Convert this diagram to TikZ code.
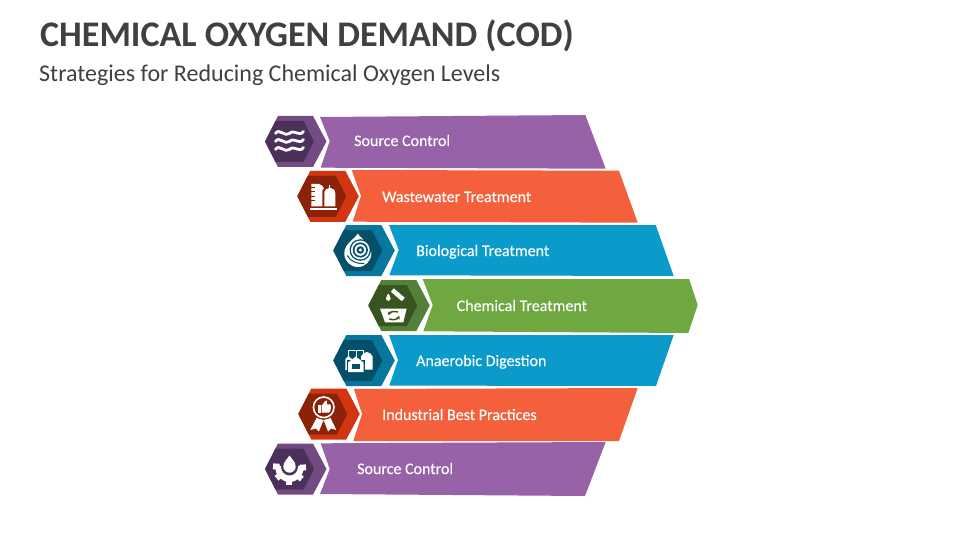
\documentclass[tikz,border=0pt]{standalone}
\usepackage{fontspec}
\setmainfont{Carlito}
\newfontfamily\labelfont[FakeBold=0.25]{Carlito}
\usetikzlibrary{arrows.meta}
\definecolor{txt}{HTML}{404040}
\definecolor{purB}{HTML}{9762A8}\definecolor{purO}{HTML}{744A83}\definecolor{purI}{HTML}{4B3059}
\definecolor{orgB}{HTML}{F4603C}\definecolor{orgO}{HTML}{D2350F}\definecolor{orgI}{HTML}{8C2309}
\definecolor{bluB}{HTML}{0A9BCB}\definecolor{bluO}{HTML}{08779E}\definecolor{bluI}{HTML}{045069}
\definecolor{grnB}{HTML}{6FA840}\definecolor{grnO}{HTML}{55803A}\definecolor{grnI}{HTML}{38541F}
\tikzset{
  barlabel/.style={text=white,anchor=base west,inner sep=0pt,font=\labelfont\fontsize{16}{18}\selectfont},
  icon/.style={fill=white,draw=none},
  iconline/.style={draw=white,line cap=round,line join=round}
}
\newcommand{\hexbase}[4]{% L, cy, outer, inner
  \fill[#3] (#1,#2) ++(0,0) -- ++(13,-25.5) -- ++(35,0) -- ++(13.5,25.5) -- ++(-13.5,25.5) -- ++(-35,0) -- cycle;
  \fill[#4] (#1,#2) -- ++(10.5,-20.5) -- ++(28,0) -- ++(10.5,20.5) -- ++(-10.5,20.5) -- ++(-28,0) -- cycle;
}
\newcommand{\dropshape}[4]{% cx, cy, r, tip height above centre
  (#1,#2-#4) .. controls (#1+0.25*#3,#2-#4+0.45*#3) and (#1+#3,#2-0.75*#3) .. (#1+#3,#2)
  arc[start angle=0,end angle=180,radius=#3]
  .. controls (#1-#3,#2-0.75*#3) and (#1-0.25*#3,#2-#4+0.45*#3) .. cycle
}
\begin{document}
\begin{tikzpicture}[x=1pt,y=-1pt]
\useasboundingbox (0,0) rectangle (960,540);
\fill[white] (0,0) rectangle (960,540);
\node[anchor=base west,inner sep=0pt,text=txt,font=\fontsize{36}{40}\selectfont\bfseries] (title) at (40,46.5) {CHEMICAL OXYGEN DEMAND (COD)};
\node[anchor=base west,inner sep=0pt,text=txt,font=\fontsize{24}{28}\selectfont] (subtitle) at (39,82) {Strategies for Reducing Chemical Oxygen Levels};
% bars
\fill[purB] (320,117) -- (585.3,115) -- (605.7,168.7) -- (320.7,167.7) -- (329.7,141) -- cycle;
\fill[orgB] (351.7,170) -- (619,170.7) -- (637.7,222.7) -- (352.7,221.7) -- (361,196) -- cycle;
\fill[bluB] (389,225) -- (655.7,225) -- (673.7,276) -- (389.3,275.3) -- (398.7,250) -- cycle;
\fill[grnB] (422.7,279) -- (689,279) -- (697.7,305) -- (688.3,333) -- (423.3,331.3) -- (432.7,305) -- cycle;
\fill[bluB] (389,335) -- (673.7,335) -- (656,386) -- (389.3,385.6) -- (398,360) -- cycle;
\fill[orgB] (354,389) -- (637.7,388) -- (619,441) -- (353.3,441) -- (362,414) -- cycle;
\fill[purB] (320.7,443.3) -- (605.7,442) -- (585,496) -- (320,494) -- (329.7,469) -- cycle;
% hexagons
\hexbase{265}{141.5}{purO}{purI}
\hexbase{297.3}{196.3}{orgO}{orgI}
\hexbase{333.3}{250.5}{bluO}{bluI}
\hexbase{368.3}{305.5}{grnO}{grnI}
\hexbase{333.3}{360.5}{bluO}{bluI}
\hexbase{298.3}{414}{orgO}{orgI}
\hexbase{265}{469}{purO}{purI}
% labels
\node[barlabel] (l1) at (354,146) {Source Control};
\node[barlabel] (l2) at (382,202) {Wastewater Treatment};
\node[barlabel] (l3) at (416,256) {Biological Treatment};
\node[barlabel] (l4) at (456.5,311) {Chemical Treatment};
\node[barlabel] (l5) at (416,366) {Anaerobic Digestion};
\node[barlabel] (l6) at (382,420) {Industrial Best Practices};
\node[barlabel] (l7) at (357,474) {Source Control};
% icon 1: waves
\begin{scope}[shift={(265,141.5)}]
\foreach \yy in {-9,-1,7}{
 \draw[iconline,line width=2.8] (10.5,\yy+1) .. controls (14,\yy-5) and (20,\yy+5) .. (24.5,\yy+1) .. controls (29,\yy-4) and (34,\yy+5) .. (38.5,\yy-1);
}
\end{scope}
% icon 2: tanks
\begin{scope}[shift={(297.3,196.3)}]
\fill[icon] (14,-12.5) -- (21,-12.5) .. controls (24,-12) and (26,-10) .. (26.5,-8) -- (25,-6) -- (25,10) -- (14,10) -- cycle;
\foreach \yy in {-9.5,-5,-0.5,4}{\fill[orgI] (14,\yy) rectangle (17.5,\yy+1.1);}
\fill[orgI] (25.2,-6.5) rectangle (26.8,10.5);
\fill[icon] (27,10) -- (27,-3) .. controls (27,-7) and (30,-8) .. (32.5,-8.5) .. controls (35,-8) and (38,-7) .. (38,-3) -- (38,10) -- cycle;
\fill[icon] (32,-11) rectangle (33,-8);
\fill[icon] (12.4,11.6) rectangle (40,13.6);
\end{scope}
% icon 3: drop with rings
\begin{scope}[shift={(333.3,250.5)}]
\fill[icon] \dropshape{24.5}{3}{13.5}{20};
\fill[bluI] (27,-0.5) circle (10.8);
\fill[white] (27,-0.5) circle (9.4);
\fill[bluI] (27,-0.5) circle (7.6);
\fill[white] (27,-0.5) circle (5.8);
\fill[bluI] (27,-0.5) circle (3.8);
\fill[white] (27,-0.5) circle (1.7);
\draw[bluI,line width=1] (14,5) .. controls (17,11) and (24,13.5) .. (31,13);
\end{scope}
% icon 4: tube and basket
\begin{scope}[shift={(368.3,305.5)}]
\draw[white,line width=4.5] (24,-15.5) -- (35,-6);
\fill[icon] \dropshape{20}{-7}{2.3}{5};
\fill[icon] (11.7,3) -- (38.4,3) -- (35,16.8) -- (16.7,16.8) -- cycle;
\draw[grnI,line width=1.5,-{Stealth[length=3pt,width=4pt]}] (29.5,6.5) .. controls (26,5.7) and (22,6) .. (20,9.5);
\draw[grnI,line width=1.5,-{Stealth[length=3pt,width=4pt]}] (21,13.5) .. controls (24,14.5) and (29,14.3) .. (31,10.5);
\end{scope}
% icon 5: factory
\begin{scope}[shift={(333.3,360.5)}]
\draw[white,line width=0.7] (15,-2) -- (15,-10) -- (30,-10) -- (30,-3);
\draw[white,line width=0.7] (23,-10) -- (23,-3);
\fill[icon] (27.7,9) -- (27.7,-4) .. controls (29,-7) and (31,-8) .. (33.5,-8.5) .. controls (36,-8) and (38,-7) .. (39.4,-4) -- (39.4,9) -- cycle;
\fill[icon] (12,9.5) -- (12,-1.5) -- (15,-4.5) -- (18.7,-1.5) -- (18.7,9.5) -- cycle;
\fill[bluI] (13.8,-0.5) rectangle (31.2,12.8);
\fill[icon] (14.8,2) -- (22.5,-4) -- (30.2,2) -- (30.2,11.7) -- (14.8,11.7) -- cycle;
\fill[bluI] (18.2,3.5) rectangle (27,8);
\end{scope}
% icon 6: award
\begin{scope}[shift={(298.3,414)}]
\fill[icon] (18.5,3.5) -- (12,16) -- (17.5,14.5) -- (20.5,17.5) -- (25.3,6) -- cycle;
\fill[icon] (32,3.5) -- (38,16) -- (32.8,14.5) -- (29.8,17.5) -- (25.3,6) -- cycle;
\fill[orgI] (25.4,-6.7) circle (12.4);
\draw[white,line width=1.6] (25.4,-6.7) circle (10.3);
\fill[icon] (20,-8.6) rectangle (22.4,-1.5);
\fill[icon] (23.4,-8.5) -- (27,-13) -- (28.5,-13.5) -- (28.7,-9.6) -- (32,-9.6) .. controls (33,-9) and (32.8,-3) .. (31,-1.5) -- (23.4,-1.5) -- cycle;
\end{scope}
% icon 7: gear and drop
\begin{scope}[shift={(265,469)}]
\foreach \a in {4,-40,-90,-140,-184}{
  \fill[icon,rotate around={\a:(24.5,-1)}] (24.5+10,-3.5) rectangle (24.5+16.5,2.5);
}
\fill[icon] (10.5,-3) rectangle (38.5,-1);
\fill[icon] (10.5,-1) arc[start angle=180,end angle=0,radius=14] -- cycle;
\fill[purI] (24.5,-2) circle (8.4);
\fill[icon] \dropshape{24.5}{-2.5}{6.2}{11};
\end{scope}
\end{tikzpicture}
\end{document}
